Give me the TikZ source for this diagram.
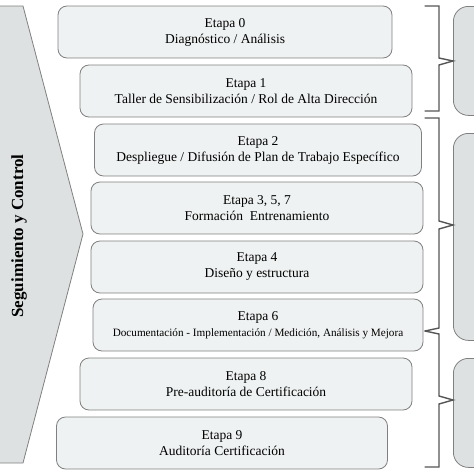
\documentclass[tikz,border=0pt]{standalone}
\usepackage{fontspec}
\setmainfont{Liberation Serif}
\usepackage{tikz}
\usetikzlibrary{positioning, calc}

\definecolor{stagefill}{HTML}{EFF2F2}
\definecolor{stageline}{HTML}{808080}
\definecolor{panelfill}{HTML}{DDE1E1}
\definecolor{bracketline}{HTML}{555555}

\newcommand{\narrowline}{\fontsize{11.2}{14}\selectfont}

\tikzset{
  stage/.style={draw=stageline, fill=stagefill, line width=0.8pt, rounded corners=9pt,
    minimum height=52pt, align=center, inner sep=0pt, font=\fontsize{13.5}{16}\selectfont},
  panel/.style={draw=stageline, fill=panelfill, line width=0.8pt, rounded corners=15pt,
    anchor=north west, inner sep=0pt, minimum width=70pt},
  bracket/.style={draw=bracketline, line width=1.4pt, line join=miter}
}

\begin{document}
\begin{tikzpicture}[x=1pt, y=-1pt, line cap=round]
    \useasboundingbox (0,0) rectangle (474,474);

    % Seguimiento arrow
    \fill[panelfill, draw=stageline, line width=0.8pt]
        (-2,6) -- (23,6) -- (83,234) -- (23,463) -- (-2,463) -- cycle;
    \node[rotate=90, font=\bfseries\fontsize{17}{20}\selectfont] (seg) at (19,236) {Seguimiento y Control};

    % Stages
    \node[stage, minimum width=334pt] (e0) at (225,32) {Etapa 0\\Diagnóstico / Análisis};
    \node[stage, minimum width=332pt] (e1) at (246,91) {Etapa 1\\Taller de Sensibilización / Rol de Alta Dirección};
    \node[stage, minimum width=327pt] (e2) at (258,150) {Etapa 2\\Despliegue / Difusión de Plan de Trabajo Específico};
    \node[stage, minimum width=332pt] (e3) at (257,208) {Etapa 3, 5, 7\\Formación~ Entrenamiento};
    \node[stage, minimum width=332pt] (e4) at (257,267) {Etapa 4\\Diseño y estructura};
    \node[stage, minimum width=330pt] (e6) at (258,325)
        {Etapa 6\\{\narrowline Documentación - Implementación / Medición, Análisis y Mejora}};
    \node[stage, minimum width=332pt] (e8) at (246,384) {Etapa 8\\Pre-auditoría de Certificación};
    \node[stage, minimum width=331pt] (e9) at (222,443) {Etapa 9\\Auditoría Certificación};

    % Right panels
    \node[panel, minimum height=109pt] (pan1) at (453,6) {};
    \node[panel, minimum height=207pt] (pan2) at (453,133) {};
    \node[panel, minimum height=109pt] (pan3) at (453,358) {};

    % Brackets
    \coordinate (t1) at (pan1.west |- 0,61);
    \coordinate (t2) at (pan2.west |- 0,225);
    \coordinate (t3) at (pan3.west |- 0,400);
    \draw[bracket] (425,6) -- (439,6) -- (439,58) -- (t1) -- (439,65) -- (439,111) -- (425,111);
    \draw[bracket] (425,118) -- (439,118) -- (439,221) -- (t2) -- (439,229) -- (439,328) -- (425,331);
    \draw[bracket] (425,331) -- (439,334) -- (439,396) -- (t3) -- (439,404) -- (439,467) -- (425,467);

\end{tikzpicture}
\end{document}
